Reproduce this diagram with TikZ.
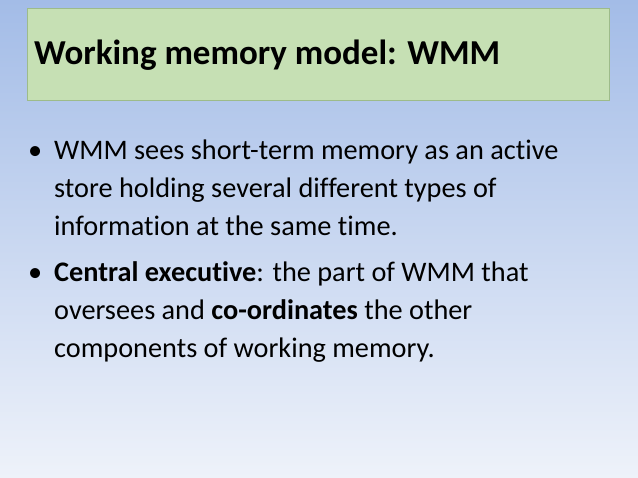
\documentclass[tikz,border=0pt]{standalone}
\usepackage{fontspec}
\setmainfont{Carlito}[RawFeature={-liga;-dlig;-clig}]
\definecolor{bgtop}{HTML}{A3BCE7}
\definecolor{bgbot}{HTML}{EEF2FA}
\definecolor{titlefill}{HTML}{C6E0B4}
\definecolor{titleline}{HTML}{9DBB8A}
\tikzset{bodytext/.style={anchor=base west,inner sep=0pt,font=\fontsize{28.3}{38}\selectfont,align=flush left,text width=580pt},
bullet/.style={anchor=base west,inner sep=0pt,font=\fontsize{28.3}{38}\selectfont}}
\begin{document}
\begin{tikzpicture}[x=1pt,y=-1pt]
\shade[top color=bgtop,bottom color=bgbot] (0,0) rectangle (638,478);
\useasboundingbox (0,0) rectangle (638,478);
\node[draw=titleline,fill=titlefill,minimum width=582pt,minimum height=92pt,anchor=north west,inner sep=0pt] (title) at (27,8) {};
\node[anchor=base west,inner sep=0pt,font=\fontsize{35}{40}\selectfont\bfseries] (tt) at (34,65) {Working memory model: WMM};
\node[bullet] (b1) at (28,160) {•};
\node[bodytext] (t1) at (54,160) {WMM sees short-term memory as an active\\store holding several different types of\\information at the same time.};
\node[bullet] (b2) at (28,282) {•};
\node[bodytext] (t2) at (54,282) {\textbf{Central executive}: the part of WMM that\\oversees and \textbf{co-ordinates} the other\\components of working memory.};
\end{tikzpicture}
\end{document}
